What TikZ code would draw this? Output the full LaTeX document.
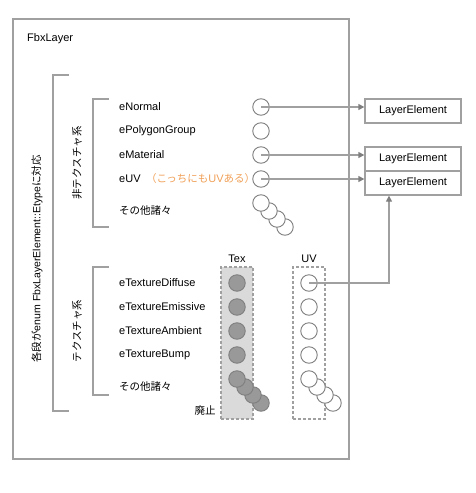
\documentclass[tikz,border=0pt]{standalone}
\usepackage{fontspec}
\setmainfont{Liberation Sans}
\newfontfamily\jp{Noto Sans CJK JP}
\usetikzlibrary{arrows.meta}
\definecolor{ln}{HTML}{A0A0A0}
\definecolor{cs}{HTML}{7F7F7F}
\definecolor{texfill}{HTML}{999999}
\definecolor{colbg}{HTML}{DADADA}
\definecolor{orng}{HTML}{F0A058}
\tikzset{
  lbl/.style={anchor=west,inner sep=0pt,font=\fontsize{11}{13}\selectfont},
  jtxt/.style={inner sep=0pt,font=\fontsize{10.5}{13}\jp},
  frame/.style={draw=ln,line width=1.3pt},
  brk/.style={draw=ln,line width=1.3pt},
  circw/.style={circle,draw=cs,fill=white,line width=0.9pt,minimum size=16.5pt,inner sep=0pt},
  circg/.style={circle,draw=cs,fill=texfill,line width=0.9pt,minimum size=16.5pt,inner sep=0pt},
  lebox/.style={draw=ln,line width=1.3pt,minimum width=96pt,minimum height=24pt,inner sep=0pt,font=\fontsize{11}{13}\selectfont},
  col/.style={draw=ln,dashed,dash pattern=on 3pt off 2pt,line width=1.2pt,minimum width=32pt,minimum height=152pt,inner sep=0pt},
  arr/.style={draw=ln,line width=1.3pt,-{Triangle[length=6pt,width=6pt,fill=cs,color=cs]}}
}
\begin{document}
\begin{tikzpicture}[x=1pt,y=-1pt]
\useasboundingbox (0,0) rectangle (476,493);
% outer frame
\node[frame,minimum width=336pt,minimum height=440pt,inner sep=0pt] (fbx) at (181,239) {};
\node[lbl] (fbxl) at (27,39) {FbxLayer};
% brackets
\draw[brk] (69,75) -- (53,75) -- (53,411) -- (69,411);
\draw[brk] (109,99) -- (93,99) -- (93,227) -- (109,227);
\draw[brk] (109,267) -- (93,267) -- (93,395) -- (109,395);
\node[rotate=90,inner sep=0pt,font=\fontsize{10.5}{13}\selectfont] (lall) at (37,259) {{\jp 各段が}enum FbxLayerElement::Etype{\jp に対応}};
\node[rotate=90,jtxt] (lnt) at (77,163) {非テクスチャ系};
\node[rotate=90,jtxt] (lt) at (77,331) {テクスチャ系};
% non-texture labels
\node[lbl] (tN) at (119,107) {eNormal};
\node[lbl] (tP) at (119,131) {ePolygonGroup};
\node[lbl] (tM) at (119,155) {eMaterial};
\node[lbl] (tU) at (119,179) {eUV};
\node[jtxt,anchor=west,text=orng] (tUn) at (146,179) {（こっちにも{\fontspec{Liberation Sans}\fontsize{11}{13}\selectfont UV}ある）};
\node[jtxt,anchor=west] (tO) at (119,211) {その他諸々};
% texture labels
\node[lbl] (tD) at (119,283) {eTextureDiffuse};
\node[lbl] (tE) at (119,307) {eTextureEmissive};
\node[lbl] (tA) at (119,331) {eTextureAmbient};
\node[lbl] (tB) at (119,355) {eTextureBump};
\node[jtxt,anchor=west] (tO2) at (119,387) {その他諸々};
% columns
\node[col,fill=colbg] (texcol) at (237,343) {};
\node[col] (uvcol) at (309,343) {};
\node[lbl,anchor=center] (texl) at (237,259) {Tex};
\node[lbl,anchor=center] (uvl) at (309,259) {UV};
\node[jtxt,anchor=center] (hai) at (205,411) {廃止};
% non-texture circles
\node[circw] (cN) at (261,107) {};
\node[circw] (cP) at (261,131) {};
\node[circw] (cM) at (261,155) {};
\node[circw] (cU) at (261,179) {};
\node[circw] (cO4) at (285,227) {};
\node[circw] (cO3) at (277,219) {};
\node[circw] (cO2) at (269,211) {};
\node[circw] (cO1) at (261,203) {};
% tex circles
\node[circg] (g1) at (237,283) {};
\node[circg] (g2) at (237,307) {};
\node[circg] (g3) at (237,331) {};
\node[circg] (g4) at (237,355) {};
\node[circg] (g8) at (261,403) {};
\node[circg] (g7) at (253,395) {};
\node[circg] (g6) at (245,387) {};
\node[circg] (g5) at (237,379) {};
% uv circles
\node[circw] (u1) at (309,283) {};
\node[circw] (u2) at (309,307) {};
\node[circw] (u3) at (309,331) {};
\node[circw] (u4) at (309,355) {};
\node[circw] (u8) at (333,403) {};
\node[circw] (u7) at (325,395) {};
\node[circw] (u6) at (317,387) {};
\node[circw] (u5) at (309,379) {};
% layer elements
\node[lebox] (le1) at (413,111) {LayerElement};
\node[lebox] (le2) at (413,159) {LayerElement};
\node[lebox] (le3) at (413,183) {LayerElement};
% connectors
\draw[arr] (cN.center) -- (cN.center -| le1.west);
\draw[arr] (cM.center) -- (cM.center -| le2.west);
\draw[arr] (cU.center) -- (cU.center -| le3.west);
\coordinate (bend) at (389,283);
\draw[arr] (u1.center) -- (bend) -- (bend |- le3.south);
\end{tikzpicture}
\end{document}
